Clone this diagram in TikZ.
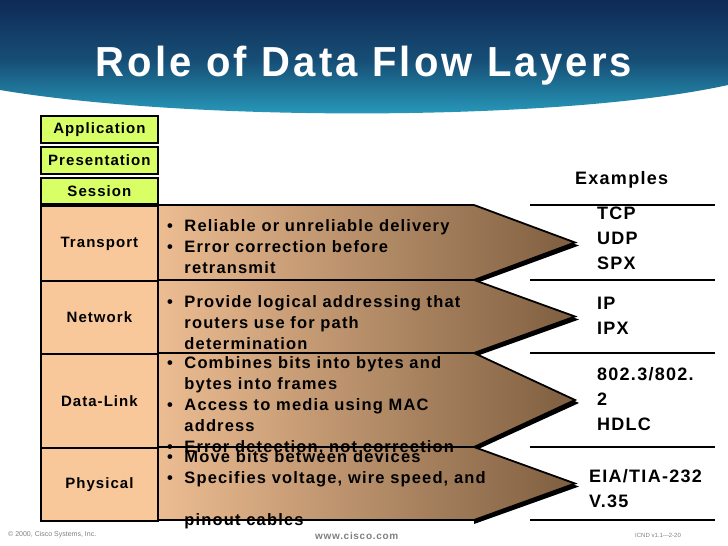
\documentclass[tikz,border=0pt]{standalone}
\usepackage{fontspec}
\setmainfont{Liberation Sans}
\newfontfamily\spaced[LetterSpace=7]{Liberation Sans}
\newfontfamily\tspaced[LetterSpace=8]{Liberation Sans}
\usetikzlibrary{calc}
\definecolor{peach}{HTML}{F9C89A}
\definecolor{lime}{HTML}{D8FF66}
\definecolor{brownA}{HTML}{EDBD92}
\definecolor{brownB}{HTML}{7E5E40}
\definecolor{navy}{HTML}{0E2A55}
\definecolor{teal}{HTML}{2AA4C4}
\begin{document}
\begin{tikzpicture}[x=1pt,y=-1pt,
  lay/.style={draw=black,line width=1.8pt,inner sep=0pt,anchor=north west,font=\spaced\bfseries\fontsize{15}{16}\selectfont,align=center},
  txt/.style={anchor=north west,font=\spaced\bfseries\fontsize{16.5}{21}\selectfont,align=left,inner sep=0pt},
  ex/.style={anchor=north west,font=\spaced\bfseries\fontsize{18}{25}\selectfont,align=left,inner sep=0pt},
  foot/.style={font=\fontsize{7}{8}\selectfont,text=gray,inner sep=0pt}]
\useasboundingbox (0,0) rectangle (728,546);
\fill[white] (0,0) rectangle (728,546);
% banner
\shade[top color=navy,bottom color=teal,middle color=navy!70!teal] (0,0) -- (728,0) -- (728,85) .. controls (560,122) and (190,122) .. (0,90) -- cycle;
\node[font=\tspaced\bfseries\fontsize{40}{44}\selectfont,text=white,yscale=1.05] (title) at (364,66) {Role of Data Flow Layers};
% upper layers
\node[lay,fill=lime,minimum width=117pt,minimum height=27pt] (app) at (40,115) {Application};
\node[lay,fill=lime,minimum width=117pt,minimum height=27pt] (pres) at (40,146) {Presentation};
\node[lay,fill=lime,minimum width=117pt,minimum height=26pt] (sess) at (40,177) {Session};
% arrows
\foreach \t/\b in {205/280,280/353,353/447,447/520}{
  \fill[black] (474,{\t+4}) -- (579,{(\t+\b)/2+3}) -- (474,{\b+4}) -- cycle;
  \shade[left color=brownA,right color=brownB] (157,\t) -- (474,\t) -- (575,{(\t+\b)/2}) -- (474,\b) -- (157,\b) -- cycle;
  \draw[line width=1.8pt] (474,\t) -- (575,{(\t+\b)/2}) -- (474,\b);
}
\foreach \y in {205,280,353,447,520}{\draw[line width=1.8pt] (157,\y) -- (474,\y); \draw[line width=1.8pt] (530,\y) -- (715,\y);}
% lower layers
\node[lay,fill=peach,minimum width=117pt,minimum height=75pt] (tra) at (40,205) {Transport};
\node[lay,fill=peach,minimum width=117pt,minimum height=73pt] (net) at (40,280) {Network};
\node[lay,fill=peach,minimum width=117pt,minimum height=94pt] (dl) at (40,353) {Data-Link};
\node[lay,fill=peach,minimum width=117pt,minimum height=73pt] (phy) at (40,447) {Physical};
% descriptions
\node[txt] (d1) at (167,219) {•\ \ Reliable or unreliable delivery\\•\ \ Error correction before\\\phantom{•\ \ }retransmit};
\node[txt] (d2) at (167,295) {•\ \ Provide logical addressing that\\\phantom{•\ \ }routers use for path\\\phantom{•\ \ }determination};
\node[txt] (d3) at (167,356) {•\ \ Combines bits into bytes and\\\phantom{•\ \ }bytes into frames\\•\ \ Access to media using MAC\\\phantom{•\ \ }address\\•\ \ Error detection, not correction};
\node[txt] (d4) at (167,450) {•\ \ Move bits between devices\\•\ \ Specifies voltage, wire speed, and\\[21pt]\phantom{•\ \ }pinout cables};
% examples
\node[ex,anchor=west] (exh) at (575,180) {Examples};
\node[ex] (e1) at (597,207) {TCP\\UDP\\SPX};
\node[ex] (e2) at (597,297) {IP\\IPX};
\node[ex] (e3) at (597,367) {802.3/802.\\2\\HDLC};
\node[ex] (e4) at (589,469) {EIA/TIA-232\\V.35};
% footer
\node[foot,anchor=west] (f1) at (8,535) {© 2000, Cisco Systems, Inc.};
\node[foot,anchor=west,font=\spaced\bfseries\fontsize{10}{12}\selectfont] (f2) at (315,536) {www.cisco.com};
\node[foot,anchor=west,font=\fontsize{6}{7}\selectfont] (f3) at (635,535) {ICND v1.1—2-20};
\end{tikzpicture}
\end{document}
